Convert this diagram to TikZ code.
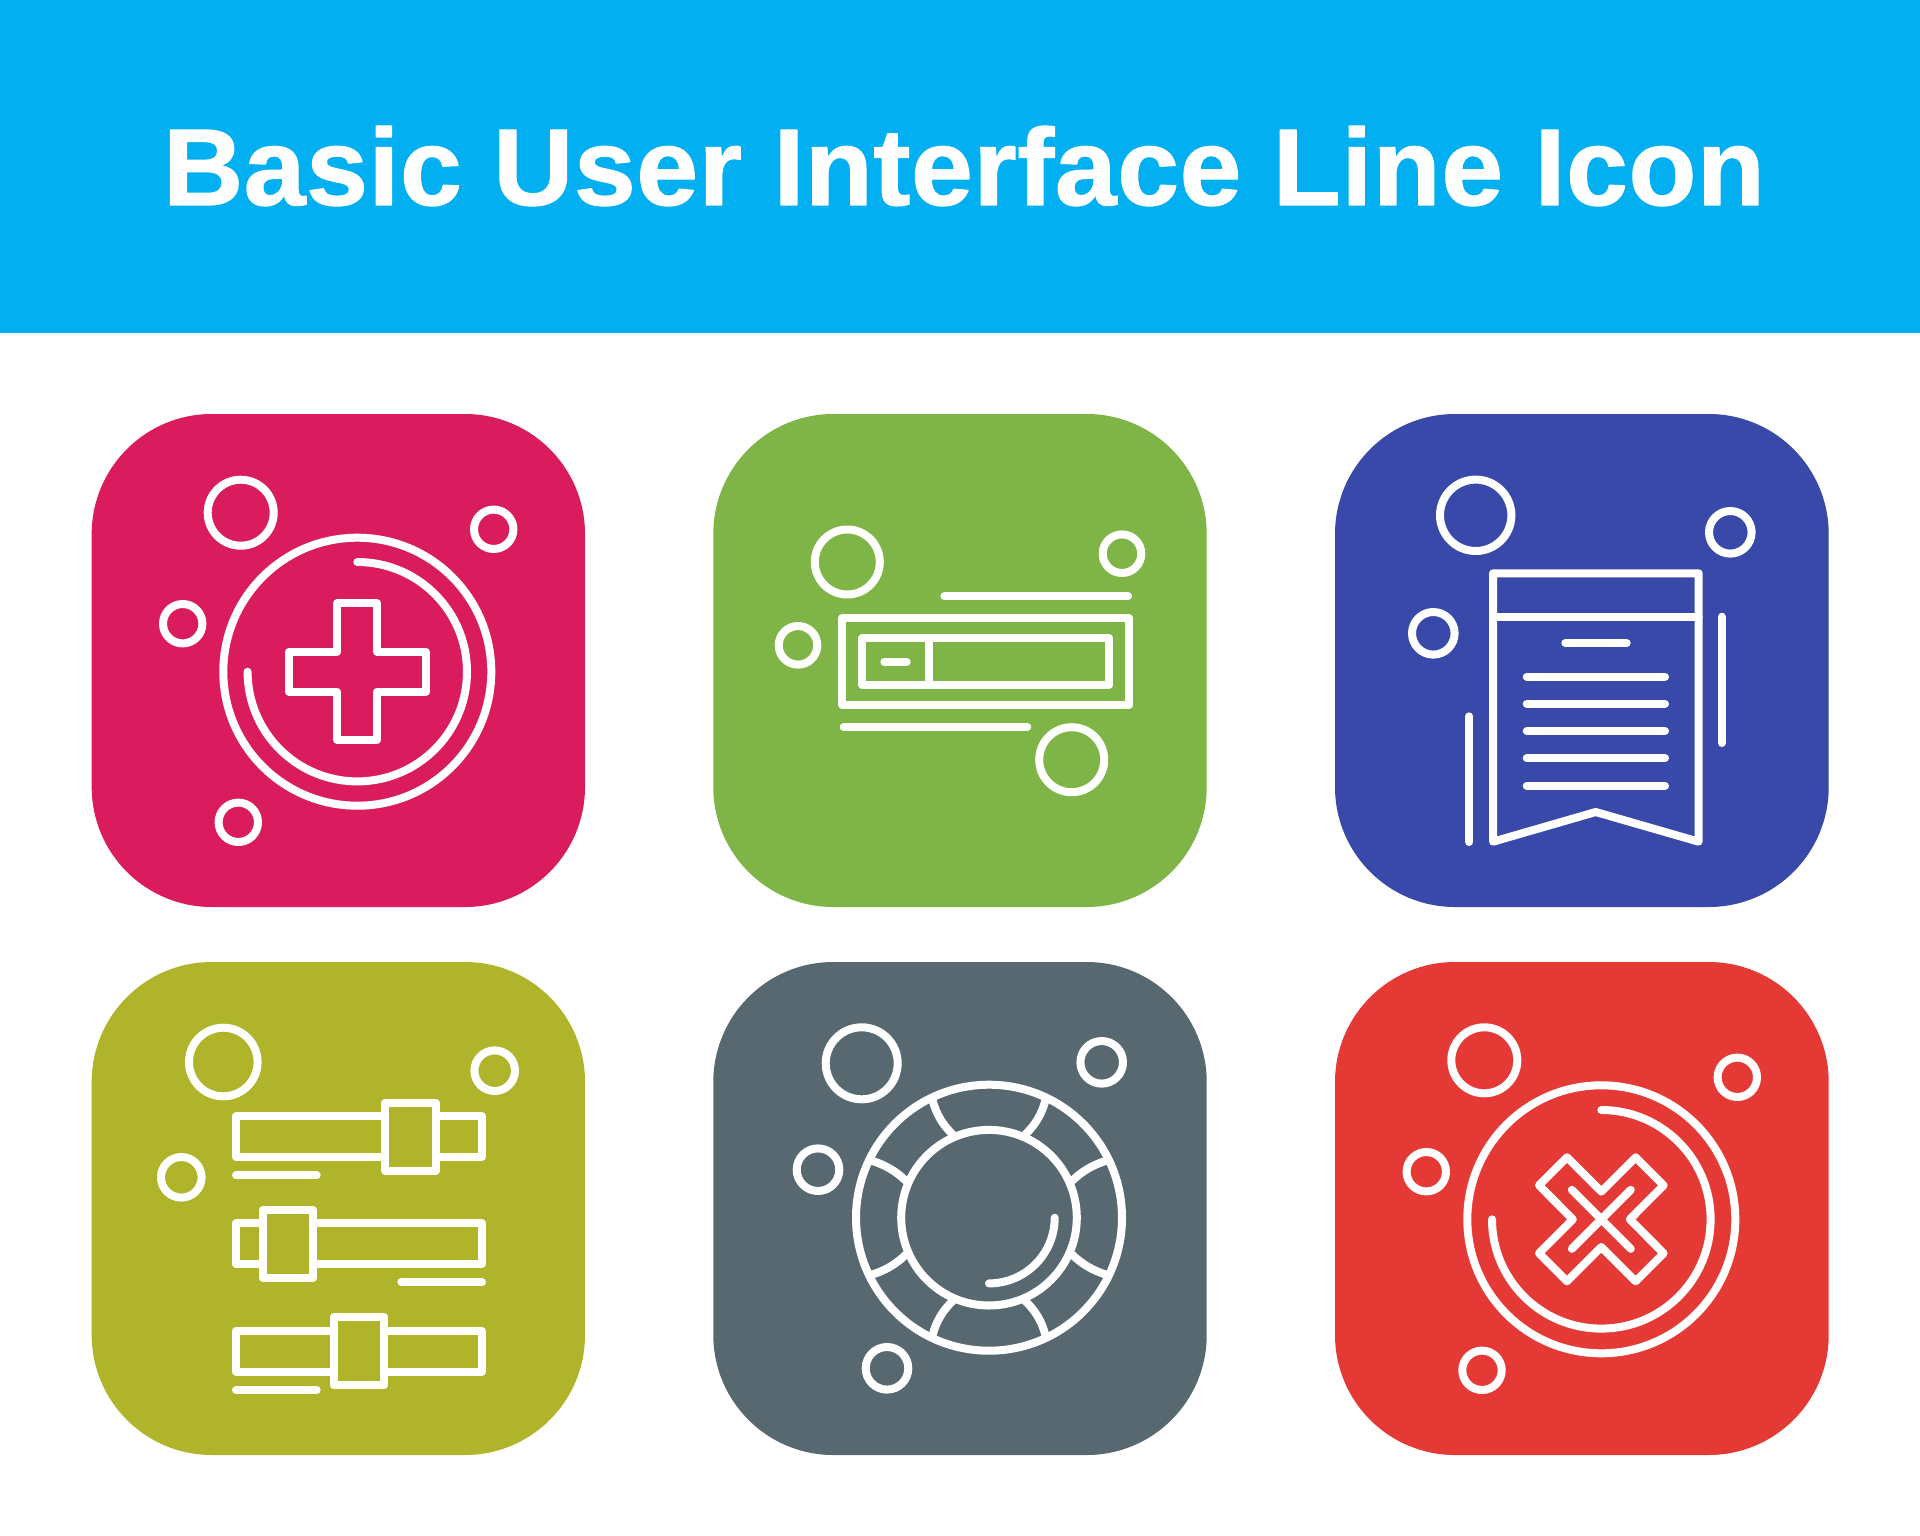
\documentclass[tikz,border=0pt]{standalone}
\usepackage{fontspec}
\usepackage{graphicx}
\newfontfamily\titlefont[FakeBold=1.1,LetterSpace=0.6]{Liberation Sans Bold}
\definecolor{headblue}{HTML}{02B0F2}
\definecolor{cpink}{HTML}{DA1C5F}
\definecolor{cgreen}{HTML}{7FB446}
\definecolor{cblue}{HTML}{3949A9}
\definecolor{colive}{HTML}{B0B42B}
\definecolor{cslate}{HTML}{576871}
\definecolor{cred}{HTML}{E53935}
\tikzset{
  ln/.style={draw=white,line width=8pt,line cap=round,line join=round},
  card/.style={rounded corners=120pt}
}
\begin{document}
\begin{tikzpicture}[x=1pt,y=-1pt]
\useasboundingbox (0,0) rectangle (1920,1536);
\fill[white] (0,0) rectangle (1920,1536);
\fill[headblue] (0,0) rectangle (1920,333);
\node[text=white,inner sep=0pt,outer sep=0pt] (title) at (964,166)
  {\pgfsetroundjoin\pgfsetroundcap\resizebox{1601pt}{79pt}{\titlefont Basic User Interface Line Icon}};
% cards
\fill[cpink,card]  (91.7,414) rectangle (585,907);
\fill[cgreen,card] (713.3,414) rectangle (1206.7,907);
\fill[cblue,card]  (1335,414) rectangle (1828.7,907);
\fill[colive,card] (91.7,962) rectangle (585,1455);
\fill[cslate,card] (713.3,962) rectangle (1206.7,1455);
\fill[cred,card]   (1335,962) rectangle (1828.7,1455);
% icon 1
\draw[ln] (240.7,512.7) circle[radius=33];
\draw[ln] (493.7,529.3) circle[radius=19.7];
\draw[ln] (182.7,623.7) circle[radius=19.7];
\draw[ln] (238.3,822.3) circle[radius=19.7];
\draw[ln] (357.3,671.7) circle[radius=134];
\draw[ln] (357.3,562) arc[start angle=-90,end angle=180,radius=109.7];
\begin{scope}[shift={(357.3,671.7)}]
\draw[ln] (-20,-68.3) -- (20,-68.3) -- (20,-20) -- (68.3,-20) -- (68.3,20) -- (20,20) -- (20,68.3) -- (-20,68.3) -- (-20,20) -- (-68.3,20) -- (-68.3,-20) -- (-20,-20) -- cycle;
\end{scope}
% icon 2
\draw[ln] (847.3,562) circle[radius=32.5];
\draw[ln] (1122,553.7) circle[radius=19.3];
\draw[ln] (798,645.3) circle[radius=19.3];
\draw[ln] (1071.7,759.7) circle[radius=32.5];
\draw[ln] (944.3,596.3) -- (1128,596.3);
\draw[ln] (842.3,618.3) rectangle (1129.3,705);
\draw[ln] (862,638.3) rectangle (1109.3,685);
\draw[ln] (928.7,638.3) -- (928.7,685);
\draw[ln] (884.3,661.7) -- (906.7,661.7);
\draw[ln] (843.7,727) -- (1027.3,727);
% icon 3
\draw[ln] (1475.7,515.3) circle[radius=35.7];
\draw[ln] (1730.3,532.3) circle[radius=21.3];
\draw[ln] (1433.3,633.3) circle[radius=21.3];
\draw[ln] (1493,573.3) -- (1698.7,573.3) -- (1698.7,841.7) -- (1595.7,812) -- (1493,841.7) -- cycle;
\draw[ln] (1493,616.7) -- (1698.7,616.7);
\draw[ln] (1565.3,643) -- (1626.7,643);
\foreach \yy in {676.7,703.7,731,758.3,785.7}
  \draw[ln] (1526.7,\yy) -- (1665,\yy);
\draw[ln] (1469.3,716.3) -- (1469.3,842);
\draw[ln] (1721.7,616.7) -- (1721.7,743);
% icon 4
\draw[ln] (223.3,1062) circle[radius=34.3];
\draw[ln] (494.7,1070.7) circle[radius=20.3];
\draw[ln] (181.3,1177.3) circle[radius=20.3];
\draw[ln] (236,1116) rectangle (482,1157);
\draw[ln,fill=colive] (385,1102.7) rectangle (435.7,1170.7);
\draw[ln] (236,1175.3) -- (316.7,1175.3);
\draw[ln] (236,1223.3) rectangle (482,1264.3);
\draw[ln,fill=colive] (262.7,1210) rectangle (313.3,1278);
\draw[ln] (401.3,1282.3) -- (482,1282.3);
\draw[ln] (236,1330.7) rectangle (482,1371.7);
\draw[ln,fill=colive] (333.7,1317.3) rectangle (384.3,1385.3);
\draw[ln] (236,1390) -- (316.7,1390);
% icon 5
\draw[ln] (861.7,1063.3) circle[radius=36];
\draw[ln] (1101.7,1062.3) circle[radius=21.3];
\draw[ln] (818,1169.7) circle[radius=21.3];
\draw[ln] (887,1368.3) circle[radius=21.3];
\begin{scope}[shift={(989,1217.7)}]
\draw[ln] (0,0) circle[radius=133];
\draw[ln] (0,0) circle[radius=87.8];
\foreach \sx/\sy in {1/1,1/-1,-1/1,-1/-1}{
  \draw[ln] (\sx*56.3,\sy*117) .. controls (\sx*52.8,\sy*103.8) and (\sx*46.2,\sy*92.6) .. (\sx*36.3,\sy*83.3);
  \draw[ln] (\sx*117.3,\sy*57) .. controls (\sx*103.8,\sy*52.8) and (\sx*92.6,\sy*46.2) .. (\sx*83.3,\sy*37);
}
\draw[ln] (65.7,0) arc[start angle=0,end angle=90,radius=65.7];
\end{scope}
% icon 6
\draw[ln] (1484.3,1060.3) circle[radius=33];
\draw[ln] (1737.3,1077.3) circle[radius=19.7];
\draw[ln] (1426.3,1171.7) circle[radius=19.7];
\draw[ln] (1482,1370.3) circle[radius=19.7];
\draw[ln] (1601.3,1219.3) circle[radius=134];
\draw[ln] (1601.3,1110) arc[start angle=-90,end angle=180,radius=109.3];
\begin{scope}[shift={(1601.3,1219.3)}]
\draw[ln] (0,-27.7) -- (34.3,-62) -- (62.3,-34) -- (28.5,0) -- (62.3,34) -- (34.3,62) -- (0,27.7) -- (-34.3,62) -- (-62.3,34) -- (-28.5,0) -- (-62.3,-34) -- (-34.3,-62) -- cycle;
\draw[ln] (-29.5,-29.5) -- (29.5,29.5);
\draw[ln] (29.5,-29.5) -- (-29.5,29.5);
\end{scope}
\end{tikzpicture}
\end{document}
